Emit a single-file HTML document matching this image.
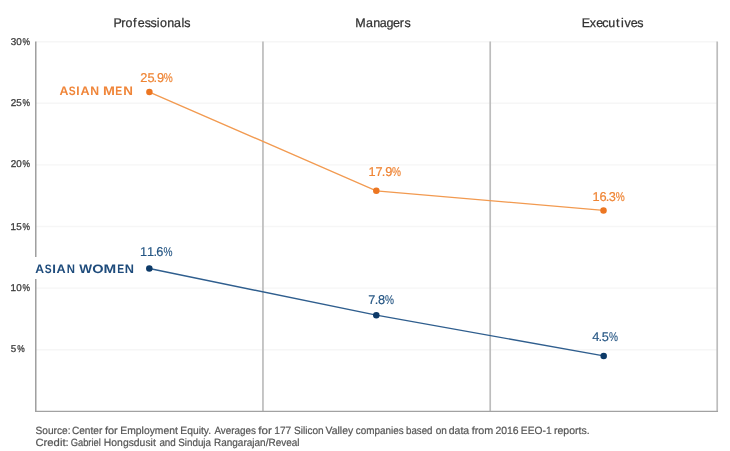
<!DOCTYPE html>
<html>
<head>
<meta charset="utf-8">
<style>
html,body{margin:0;padding:0;background:#fff;}
body{width:730px;height:451px;overflow:hidden;}
svg{display:block;will-change:transform;text-rendering:geometricPrecision;font-family:"Liberation Sans",sans-serif;}
.hd{font-size:12.5px;fill:#333;stroke:#333;stroke-width:0.25px;}
.yl{font-size:9.9px;fill:#3f3f3f;stroke:#3f3f3f;stroke-width:0.3px;}
.vo{font-size:12.8px;fill:#ef8535;stroke:#ef8535;stroke-width:0.2px;}
.vb{font-size:12.8px;fill:#245583;stroke:#245583;stroke-width:0.15px;}
.lb{font-size:12.2px;font-weight:bold;}
.src{font-size:10.5px;fill:#555;stroke:#555;stroke-width:0.2px;}
</style>
</head>
<body>
<svg width="730" height="451" viewBox="0 0 730 451">
  <rect width="730" height="451" fill="#fff"/>
  <!-- headers -->
  <text class="hd" x="113.5 121.36 125.52 133.0 137.84 144.73 150.48 156.86 159.93 167.27 174.06 181.46 184.28" y="26.9">Professionals</text>
  <text class="hd" x="355.34 366.01 373.17 379.81 386.61 393.04 399.86 404.52" y="26.9">Managers</text>
  <text class="hd" x="581.64 589.67 596.14 602.37 608.23 616.0 620.9 624.42 630.84 637.33" y="26.9">Executives</text>

  <!-- gridlines -->
  <g stroke="#f6f6f6" stroke-width="1.4">
    <line x1="36" y1="41.7" x2="717" y2="41.7"/>
    <line x1="36" y1="103.2" x2="717" y2="103.2"/>
    <line x1="36" y1="164.9" x2="717" y2="164.9"/>
    <line x1="36" y1="226.5" x2="717" y2="226.5"/>
    <line x1="36" y1="288.1" x2="717" y2="288.1"/>
    <line x1="36" y1="349.7" x2="717" y2="349.7"/>
  </g>

  <!-- y labels -->
  <g class="yl">
    <text x="10.66 16.23" y="45.1">30</text>
    <text transform="translate(22.59 45.1) scale(0.85 1)">%</text>
    <text x="10.63 16.24" y="105.8">25</text>
    <text transform="translate(22.59 105.8) scale(0.85 1)">%</text>
    <text x="10.63 16.23" y="166.7">20</text>
    <text transform="translate(22.59 166.7) scale(0.85 1)">%</text>
    <text x="10.49 16.24" y="230.3">15</text>
    <text transform="translate(22.59 230.3) scale(0.85 1)">%</text>
    <text x="10.49 16.23" y="291.1">10</text>
    <text transform="translate(22.59 291.1) scale(0.85 1)">%</text>
    <text x="10.74" y="351.5">5</text>
    <text transform="translate(17.19 351.5) scale(0.85 1)">%</text>
  </g>

  <!-- dividers -->
  <g stroke="#c3c3c3" stroke-width="1.9">
    <line x1="262.95" y1="41.5" x2="262.95" y2="411"/>
  </g>
  <g stroke="#bdbdbd" stroke-width="1.7">
    <line x1="490.2" y1="41.5" x2="490.2" y2="411"/>
    <line x1="717.2" y1="41.5" x2="717.2" y2="411.9"/>
  </g>
  <!-- axes -->
  <line x1="35.8" y1="41.5" x2="35.8" y2="411.9" stroke="#909090" stroke-width="1.3"/>
  <line x1="35.2" y1="411.4" x2="718" y2="411.4" stroke="#a2a2a2" stroke-width="1.2"/>

  <!-- orange series -->
  <polyline points="149.4,92.1 376.3,190.8 603.5,210.4" fill="none" stroke="#f29a50" stroke-width="1.35"/>
  <g fill="#ec7622">
    <circle cx="149.4" cy="92.1" r="3.25"/>
    <circle cx="376.3" cy="190.8" r="3.25"/>
    <circle cx="603.5" cy="210.4" r="3.25"/>
  </g>
  <!-- blue series -->
  <polyline points="149.3,268.5 376.3,315.2 603.7,355.9" fill="none" stroke="#2f5e8e" stroke-width="1.35"/>
  <g fill="#0d3a68">
    <circle cx="149.3" cy="268.5" r="3.25"/>
    <circle cx="376.3" cy="315.2" r="3.25"/>
    <circle cx="603.7" cy="355.9" r="3.25"/>
  </g>

  <!-- value labels -->
  <text class="vo" x="140.17 147.48 153.42 156.94" y="81.6">25.9</text>
  <text class="vo" transform="translate(163.7 81.6) scale(0.79 1)">%</text>
  <text class="vo" x="368.49 375.59 381.67 385.24" y="175.8">17.9</text>
  <text class="vo" transform="translate(392.1 175.8) scale(0.79 1)">%</text>
  <text class="vo" x="592.39 599.52 605.67 608.63" y="200.5">16.3</text>
  <text class="vo" transform="translate(615.8 200.5) scale(0.79 1)">%</text>
  <text class="vb" x="140.12 146.92 153.6 156.35" y="256.2">11.6</text>
  <text class="vb" transform="translate(163.6 256.2) scale(0.79 1)">%</text>
  <text class="vb" x="368.26 374.67 378.05" y="304.3">7.8</text>
  <text class="vb" transform="translate(385.1 304.3) scale(0.79 1)">%</text>
  <text class="vb" x="592.18 598.45 601.85" y="341.2">4.5</text>
  <text class="vb" transform="translate(609.1 341.2) scale(0.79 1)">%</text>

  <!-- series labels -->
  <text class="lb" fill="#f0863a" transform="translate(59.54 95.1) scale(1.014 1)">A</text>
  <text class="lb" fill="#f0863a" transform="translate(68.74 95.1) scale(0.850 1)">S</text>
  <text class="lb" fill="#f0863a" transform="translate(76.36 95.1) scale(0.968 1)">I</text>
  <text class="lb" fill="#f0863a" transform="translate(80.43 95.1) scale(1.038 1)">A</text>
  <text class="lb" fill="#f0863a" transform="translate(90.13 95.1) scale(1.004 1)">N</text>
  <text class="lb" fill="#f0863a" transform="translate(102.89 95.1) scale(1.173 1)">M</text>
  <text class="lb" fill="#f0863a" transform="translate(115.30 95.1) scale(0.850 1)">E</text>
  <text class="lb" fill="#f0863a" transform="translate(123.15 95.1) scale(1.101 1)">N</text>
  <rect x="34" y="257" width="102" height="22" fill="#fff"/>
  <text class="lb" fill="#1f4c7c" transform="translate(35.14 273.2) scale(1.002 1)">A</text>
  <text class="lb" fill="#1f4c7c" transform="translate(44.64 273.2) scale(0.850 1)">S</text>
  <text class="lb" fill="#1f4c7c" transform="translate(52.37 273.2) scale(1.082 1)">I</text>
  <text class="lb" fill="#1f4c7c" transform="translate(56.53 273.2) scale(1.038 1)">A</text>
  <text class="lb" fill="#1f4c7c" transform="translate(66.69 273.2) scale(0.934 1)">N</text>
  <text class="lb" fill="#1f4c7c" transform="translate(79.34 273.2) scale(1.114 1)">W</text>
  <text class="lb" fill="#1f4c7c" transform="translate(92.25 273.2) scale(1.191 1)">O</text>
  <text class="lb" fill="#1f4c7c" transform="translate(103.60 273.2) scale(1.250 1)">M</text>
  <text class="lb" fill="#1f4c7c" transform="translate(117.20 273.2) scale(0.850 1)">E</text>
  <text class="lb" fill="#1f4c7c" transform="translate(124.70 273.2) scale(1.046 1)">N</text>

  <!-- source -->
  <text class="src" x="35.53" y="434" textLength="34.99" lengthAdjust="spacingAndGlyphs">Source:</text>
  <text class="src" x="71.88" y="434" textLength="30.50" lengthAdjust="spacingAndGlyphs">Center</text>
  <text class="src" x="104.95" y="434" textLength="12.84" lengthAdjust="spacingAndGlyphs">for</text>
  <text class="src" x="120.35" y="434" textLength="57.52" lengthAdjust="spacingAndGlyphs">Employment</text>
  <text class="src" x="180.35" y="434" textLength="30.78" lengthAdjust="spacingAndGlyphs">Equity.</text>
  <text class="src" x="214.38" y="434" textLength="41.57" lengthAdjust="spacingAndGlyphs">Averages</text>
  <text class="src" x="258.24" y="434" textLength="13.56" lengthAdjust="spacingAndGlyphs">for</text>
  <text class="src" x="274.22" y="434" textLength="17.10" lengthAdjust="spacingAndGlyphs">177</text>
  <text class="src" x="293.94" y="434" textLength="29.72" lengthAdjust="spacingAndGlyphs">Silicon</text>
  <text class="src" x="325.55" y="434" textLength="27.58" lengthAdjust="spacingAndGlyphs">Valley</text>
  <text class="src" x="355.78" y="434" textLength="47.87" lengthAdjust="spacingAndGlyphs">companies</text>
  <text class="src" x="406.07" y="434" textLength="26.46" lengthAdjust="spacingAndGlyphs">based</text>
  <text class="src" x="435.68" y="434" textLength="11.18" lengthAdjust="spacingAndGlyphs">on</text>
  <text class="src" x="448.76" y="434" textLength="20.44" lengthAdjust="spacingAndGlyphs">data</text>
  <text class="src" x="471.65" y="434" textLength="21.56" lengthAdjust="spacingAndGlyphs">from</text>
  <text class="src" x="495.48" y="434" textLength="23.19" lengthAdjust="spacingAndGlyphs">2016</text>
  <text class="src" x="520.86" y="434" textLength="30.74" lengthAdjust="spacingAndGlyphs">EEO-1</text>
  <text class="src" x="553.90" y="434" textLength="35.76" lengthAdjust="spacingAndGlyphs">reports.</text>
  <text class="src" x="35.42" y="446.1" textLength="33.30" lengthAdjust="spacingAndGlyphs">Credit:</text>
  <text class="src" x="70.73" y="446.1" textLength="30.10" lengthAdjust="spacingAndGlyphs">Gabriel</text>
  <text class="src" x="103.85" y="446.1" textLength="51.92" lengthAdjust="spacingAndGlyphs">Hongsdusit</text>
  <text class="src" x="159.39" y="446.1" textLength="16.45" lengthAdjust="spacingAndGlyphs">and</text>
  <text class="src" x="178.25" y="446.1" textLength="32.75" lengthAdjust="spacingAndGlyphs">Sinduja</text>
  <text class="src" x="213.98" y="446.1" textLength="85.59" lengthAdjust="spacingAndGlyphs">Rangarajan/Reveal</text>
</svg>
</body>
</html>
